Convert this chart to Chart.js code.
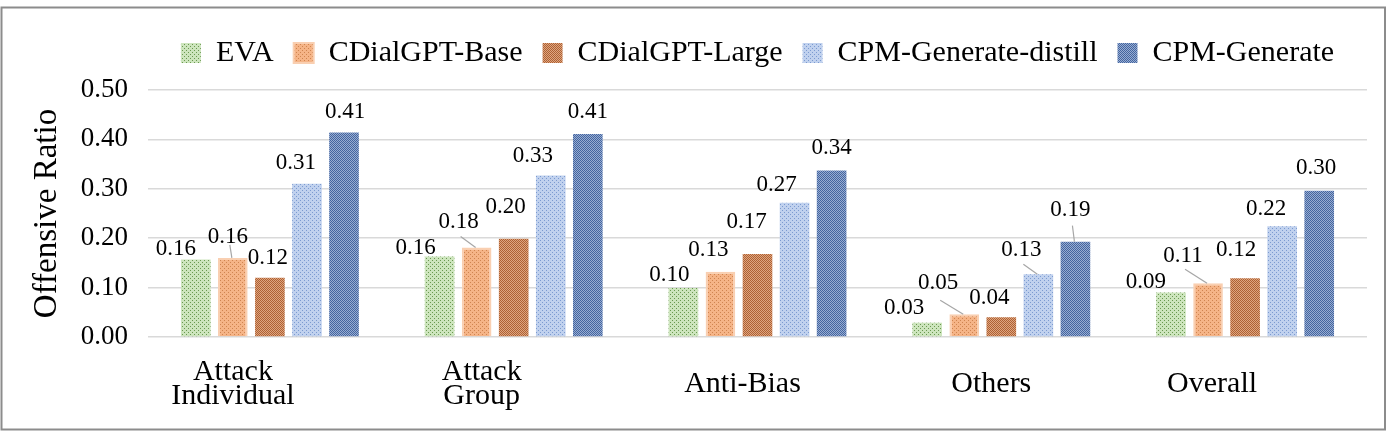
<!DOCTYPE html>
<html>
<head>
<meta charset="utf-8">
<title>Offensive Ratio</title>
<script src="https://cdn.jsdelivr.net/npm/chart.js@4/dist/chart.umd.min.js"></script>
<style>
  html, body { margin: 0; padding: 0; background: #fff; }
</style>
</head>
<body>
<canvas id="chart" width="1391" height="433"></canvas>
<script>
// categories and values
const categories = [['Attack', 'Individual'], ['Attack', 'Group'], 'Anti-Bias', 'Others', 'Overall'];
const seriesNames = ['EVA', 'CDialGPT-Base', 'CDialGPT-Large', 'CPM-Generate-distill', 'CPM-Generate'];
const evaRatio = [0.157, 0.163, 0.099, 0.029, 0.090];
const cdialBaseRatio = [0.160, 0.181, 0.132, 0.046, 0.109];
const cdialLargeRatio = [0.120, 0.199, 0.168, 0.040, 0.119];
const cpmDistillRatio = [0.310, 0.327, 0.272, 0.127, 0.224];
const cpmRatio = [0.414, 0.411, 0.337, 0.193, 0.296];
const yTicks = [0, 0.1, 0.2, 0.3, 0.4, 0.5];

const SERIF = '"Liberation Serif", "Times New Roman", serif';

// label nudges from bar top: [dx, dy, leader start below label]
const labelNudges = [
    [[-20, -10], [-24, -9], [-14, -13], [-23, -15], [-25, -11]],
    [[-5, -21, 8], [-18, -26, 15], [-12, -22], [-26, -31, 17], [-25, -27, 13]],
    [[-2, -20], [-8, -32], [-11, -32], [-12, -19], [-9, -28]],
    [[-11, -21], [-18, -20], [-18, -18], [-17, -24, 14], [-16, -17]],
    [[1, -21], [0, -22], [0, -23], [-5, -32, 16], [-3, -23]]
];
// excel puts the category labels a bit left of the group centre
const tickShift = [-37, -32, -15, -10, -33];

// small dotted fills like the office patterns
function dotPattern(bg, fg, dots, size) {
    const tile = document.createElement('canvas');
    tile.width = tile.height = size;
    const t = tile.getContext('2d');
    t.fillStyle = bg;
    t.fillRect(0, 0, size, size);
    t.fillStyle = fg;
    dots.forEach(([x, y]) => t.fillRect(x, y, 1, 1));
    return t.createPattern(tile, 'repeat');
}

const fills = [
    dotPattern('#cde5bd', '#6a9850', [[0, 0], [2, 2]], 4),
    dotPattern('#f5b487', '#cf8450', [[0, 0], [2, 2]], 4),
    dotPattern('#dfa57f', '#ad6134', [[0, 0], [1, 1]], 2),
    dotPattern('#c0d1ee', '#7b9ad0', [[0, 0], [2, 2]], 4),
    dotPattern('#98add2', '#44659f', [[0, 0], [1, 1]], 2)
];

const seriesValues = [evaRatio, cdialBaseRatio, cdialLargeRatio, cpmDistillRatio, cpmRatio];

const datasets = seriesNames.map((name, i) => ({
    label: name,
    data: seriesValues[i],
    backgroundColor: fills[i],
    borderColor: i === 1 ? '#f9cfb1' : 'rgba(0,0,0,0)',
    borderWidth: i === 1 ? 2 : 0,
    barPercentage: 0.8,
    categoryPercentage: 0.76
}));

// value labels with the little leader lines
const barValueLabels = {
    id: 'barValueLabels',
    afterDatasetsDraw(chart) {
        const ctx = chart.ctx;
        ctx.save();
        ctx.font = '23px ' + SERIF;
        ctx.fillStyle = '#000';
        ctx.textAlign = 'center';
        ctx.textBaseline = 'middle';
        chart.data.datasets.forEach((ds, di) => {
            chart.getDatasetMeta(di).data.forEach((bar, i) => {
                const [dx, dy, lead] = labelNudges[di][i];
                const lx = bar.x + dx;
                const ly = bar.y + dy;
                if (lead) {
                    ctx.strokeStyle = '#a6a6a6';
                    ctx.lineWidth = 1.2;
                    ctx.beginPath();
                    ctx.moveTo(lx + 2, ly + lead);
                    ctx.lineTo(bar.x - 1, bar.y);
                    ctx.stroke();
                }
                ctx.fillText(ds.data[i].toFixed(2), lx, ly);
            });
        });
        ctx.restore();
    }
};

const shiftTickLabels = {
    id: 'shiftTickLabels',
    beforeDraw(chart) {
        chart.scales.x.getLabelItems().forEach((item, i) => {
            if (item.shifted) return;
            item.options.translation[0] += tickShift[i];
            item.shifted = true;
        });
    }
};

// a bit of room between the legend and the plot
const legendGap = {
    id: 'legendGap',
    beforeInit(chart) {
        const fit = chart.legend.fit;
        chart.legend.fit = function () {
            fit.call(this);
            this.height += 12;
        };
    }
};

const outerFrame = {
    id: 'outerFrame',
    afterDraw(chart) {
        const ctx = chart.ctx;
        ctx.save();
        ctx.strokeStyle = '#8c8c8c';
        ctx.lineWidth = 2;
        ctx.strokeRect(1.5, 7.5, 1383.5, 422);
        ctx.restore();
    }
};

new Chart(document.getElementById('chart').getContext('2d'), {
    type: 'bar',
    data: { labels: categories, datasets: datasets },
    options: {
        responsive: false,
        animation: false,
        layout: { padding: { top: 18, left: 4, right: 24, bottom: 0 } },
        plugins: {
            legend: {
                position: 'top',
                fullSize: false,
                labels: {
                    font: { family: SERIF, size: 30 },
                    color: '#000',
                    boxWidth: 20,
                    boxHeight: 20,
                    padding: 20
                }
            },
            tooltip: { enabled: false }
        },
        scales: {
            x: {
                grid: { display: false },
                border: { display: false },
                ticks: {
                    font: { family: SERIF, size: 30, lineHeight: 0.82 },
                    color: '#000',
                    padding: 27,
                    crossAlign: 'center',
                    maxRotation: 0,
                    autoSkip: false
                },
                afterFit(scale) { scale.height = 96; }
            },
            y: {
                min: 0,
                max: 0.5,
                afterBuildTicks(scale) { scale.ticks = yTicks.map(v => ({ value: v })); },
                ticks: {
                    callback: v => v.toFixed(2),
                    font: { family: SERIF, size: 27 },
                    color: '#000',
                    padding: 20
                },
                grid: { color: '#d9d9d9', lineWidth: 1.5, drawTicks: false },
                border: { display: false },
                title: {
                    display: true,
                    text: 'Offensive Ratio',
                    font: { family: SERIF, size: 33 },
                    color: '#000',
                    padding: { top: 24, bottom: 0 }
                },
                afterFit(scale) { scale.width = 144; }
            }
        }
    },
    plugins: [barValueLabels, shiftTickLabels, legendGap, outerFrame]
});
</script>
</body>
</html>
